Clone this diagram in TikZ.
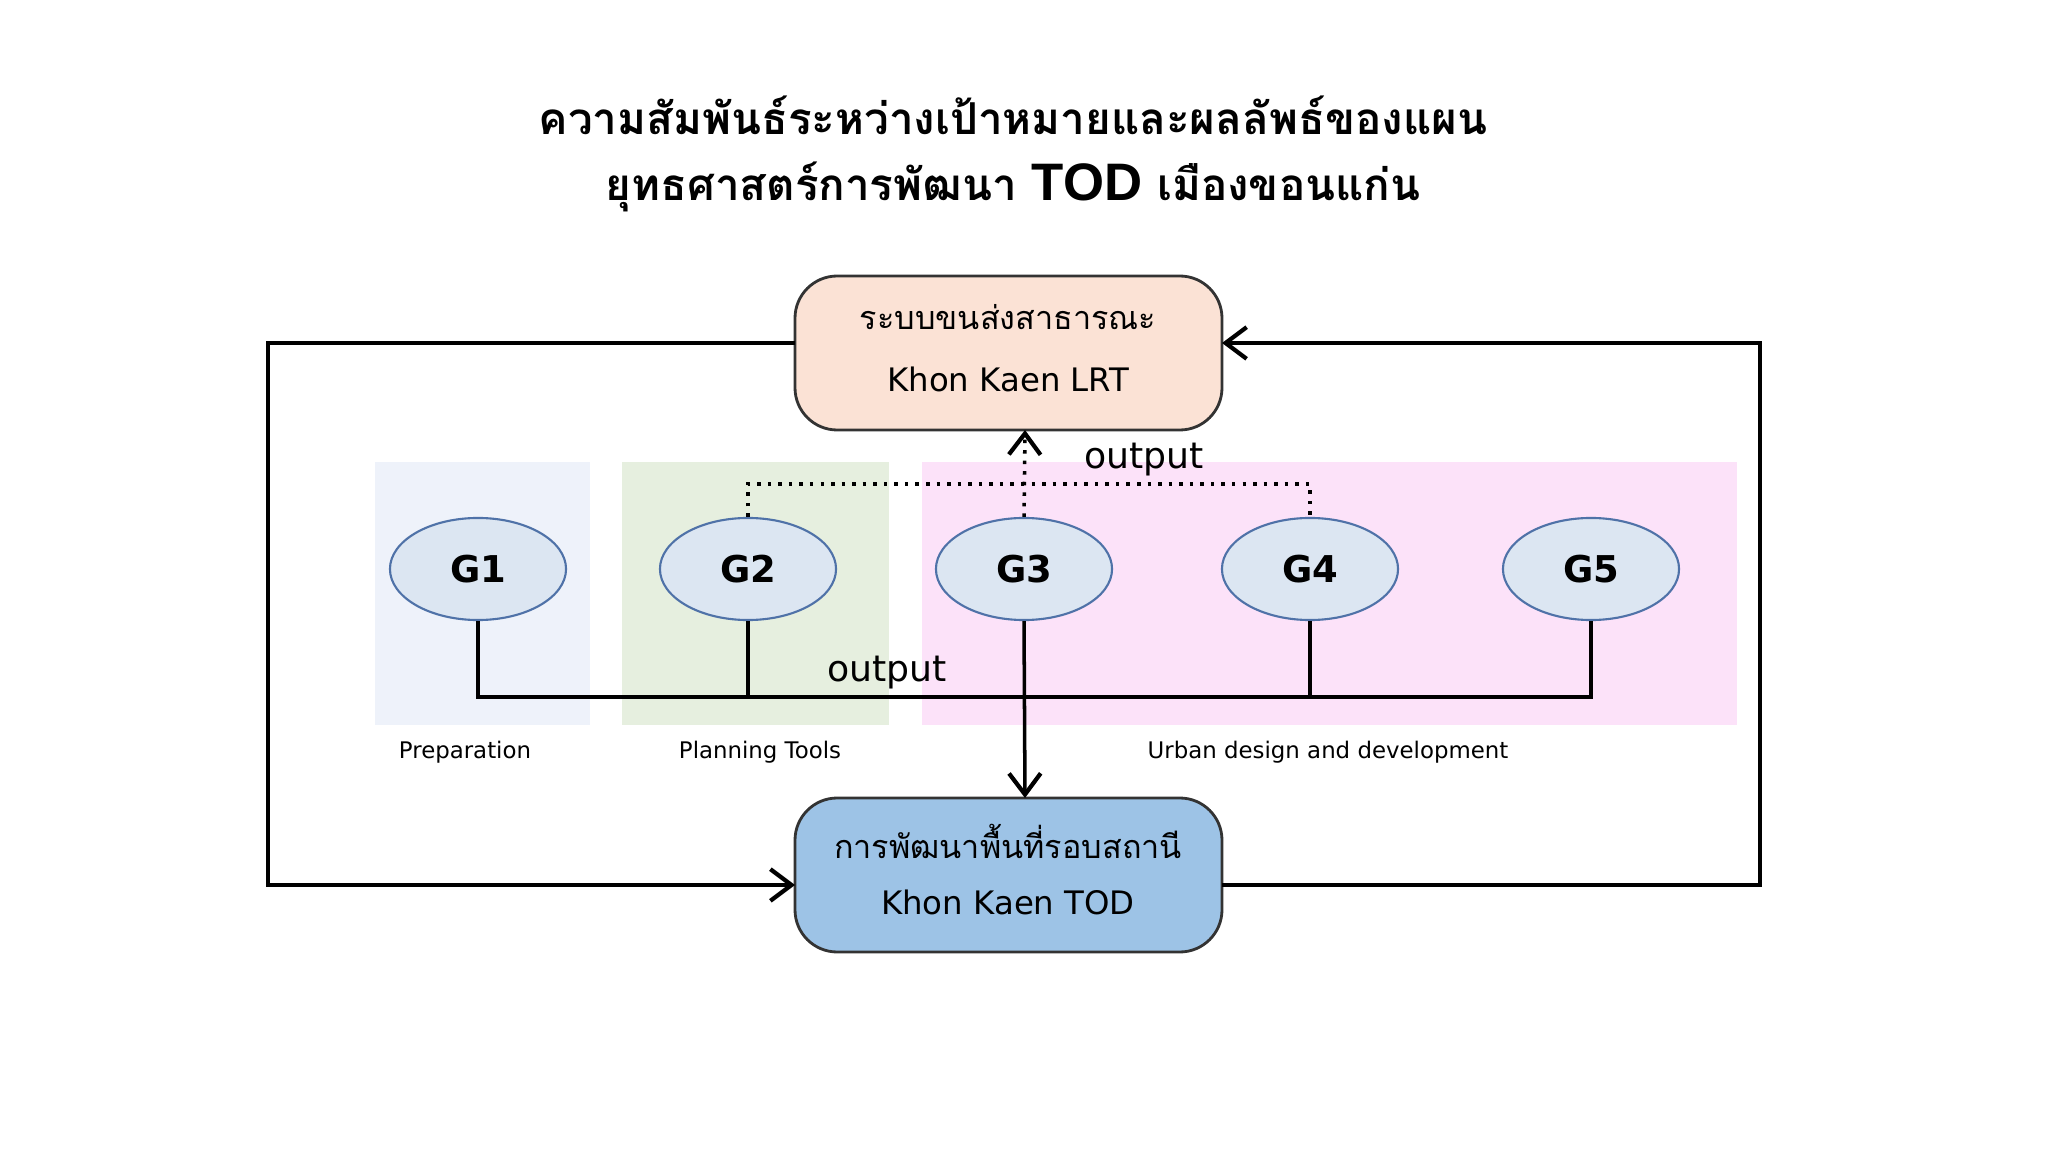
\documentclass[tikz,border=0pt]{standalone}
\usepackage{fontspec}
\setmainfont{DejaVu Sans}
\newfontfamily\thaifont[Script=Thai]{Loma}
\newfontfamily\titlelatin{Liberation Sans}
\usetikzlibrary{arrows.meta,shapes.geometric}
\definecolor{peach}{HTML}{FBE2D5}
\definecolor{todblue}{HTML}{9DC3E6}
\definecolor{ellfill}{HTML}{DCE6F2}
\definecolor{ellline}{HTML}{4F72A8}
\definecolor{bgA}{HTML}{EEF2FA}
\definecolor{bgB}{HTML}{E6EFDF}
\definecolor{bgC}{HTML}{FCE2F9}
\begin{document}
\begin{tikzpicture}[x=0.01cm,y=-0.01cm,
  goal/.style={ellipse,draw=ellline,fill=ellfill,line width=0.6pt,minimum width=1.76cm,minimum height=1.02cm,font=\bfseries\fontsize{10.5}{12}\selectfont},
  loop/.style={line width=1.4pt},
  bus/.style={line width=1pt},
  tip/.style={-{Straight Barb[length=6pt,width=9pt,line width=1.2pt]}},
  lbl/.style={font=\fontsize{6.5}{8}\selectfont},
  boxtxt/.style={font=\fontsize{9.2}{11}\selectfont},
  ttl/.style={font=\thaifont\bfseries\fontsize{12.5}{15}\selectfont}]
\useasboundingbox (0,0) rectangle (2048,1152);
% backgrounds
\fill[bgA] (375,462) rectangle (590,725);
\fill[bgB] (622,462) rectangle (889,725);
\fill[bgC] (922,462) rectangle (1737,725);
% title
\node[ttl] (t1) at (1013,115) {ความสัมพันธ์ระหว่างเป้าหมายและผลลัพธ์ของแผน};
\node[ttl] (t2) at (1013,187) {ยุทธศาสตร์การพัฒนา {\titlelatin\bfseries\fontsize{15}{18}\selectfont TOD} เมืองขอนแก่น};
% boxes
\draw[fill=peach,draw=black!80,line width=0.8pt,rounded corners=12pt] (795,276) rectangle (1222,430);
\draw[fill=todblue,draw=black!80,line width=0.8pt,rounded corners=12pt] (795,798) rectangle (1222,952);
\coordinate (topS) at (1025,430);
\coordinate (botN) at (1025,798);
\coordinate (topW) at (795,343); \coordinate (topE) at (1222,343);
\coordinate (botW) at (795,885); \coordinate (botE) at (1222,885);
\node[boxtxt] (lrt1) at (1008,317) {\thaifont ระบบขนส่งสาธารณะ};
\node[boxtxt] (lrt2) at (1008,379) {Khon Kaen LRT};
\node[boxtxt] (tod1) at (1008,841) {\thaifont การพัฒนาพื้นที่รอบสถานี};
\node[boxtxt] (tod2) at (1008,902) {Khon Kaen TOD};
% goals
\node[goal] (g1) at (478,569) {G1};
\node[goal] (g2) at (748,569) {G2};
\node[goal] (g3) at (1024,569) {G3};
\node[goal] (g4) at (1310,569) {G4};
\node[goal] (g5) at (1591,569) {G5};
% solid bus
\draw[bus] (g1.south) -- ++(0,76) coordinate (b1) -- (g5.south |- b1) -- (g5.south);
\draw[bus] (g2.south) -- (g2.south |- b1);
\draw[bus] (g4.south) -- (g4.south |- b1);
\draw[bus,tip] (g3.south) -- (botN);
% dotted bus
\draw[bus,dotted] (g2.north) -- ++(0,-33) coordinate (d1) -- (g4.north |- d1) -- (g4.north);
\draw[bus,dotted,tip] (g3.north) -- (topS);
% loop
\draw[loop,tip] (topW) -- (268,343) -- (268,885) -- (botW);
\draw[loop,tip] (botE) -- (1760,885) -- (1760,343) -- (topE);
% labels
\node[font=\fontsize{10.3}{12}\selectfont] (o1) at (1144,460) {output};
\node[font=\fontsize{10.3}{12}\selectfont] (o2) at (887,673) {output};
\node[lbl] (p1) at (465,752) {Preparation};
\node[lbl] (p2) at (760,752) {Planning Tools};
\node[lbl] (p3) at (1328,752) {Urban design and development};
\end{tikzpicture}
\end{document}
